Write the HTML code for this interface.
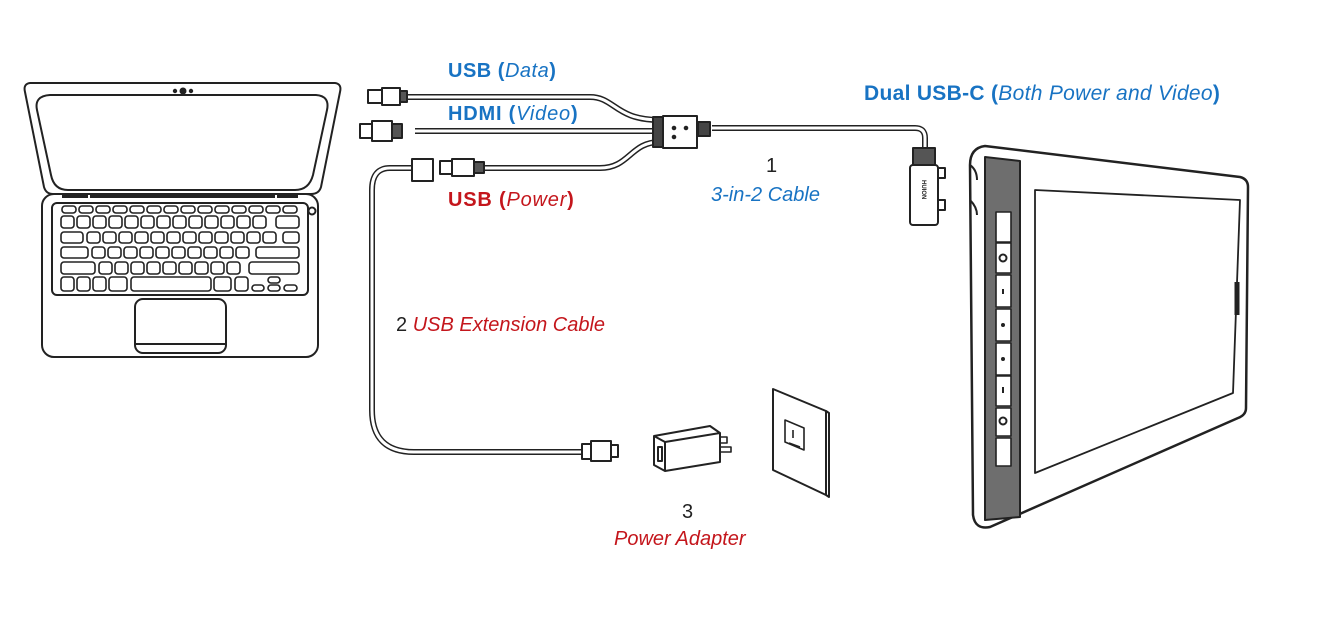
<!DOCTYPE html>
<html><head><meta charset="utf-8"><style>
body{margin:0;background:#fff;}
.w{position:relative;width:1323px;height:617px;overflow:hidden;font-family:"Liberation Sans",sans-serif;}
.t{position:absolute;font-size:20px;white-space:nowrap;}
.b{color:#1873c3;} .r{color:#c4161c;}
.t b{font-weight:bold;} .t i{font-weight:normal;}
</style></head><body><div class="w">
<svg width="1323" height="617" style="position:absolute;left:0;top:0" fill="none" stroke="#222" stroke-width="2" stroke-linejoin="round">
<!-- laptop lid -->
<path d="M30 83 H335 Q342 84 340 92 L321 187 Q319 194 311 194 H53 Q46 194 44 187 L25 92 Q23 84 30 83Z"/>
<path d="M50 95 H316 Q330 96 327 110 L313 175 Q309 190 295 190 H68 Q54 190 51 175 L37 110 Q34 96 50 95Z"/>
<circle cx="183" cy="91" r="2.5" fill="#222"/><circle cx="175" cy="91" r="1.2" fill="#222"/><circle cx="191" cy="91" r="1.2" fill="#222"/>
<path d="M62 196 H88 M90 196 H275 M277 196 H298" stroke-width="4"/>
<!-- base -->
<rect x="42" y="194" width="276" height="163" rx="12"/>
<rect x="52" y="203" width="256" height="92" rx="5"/>
<circle cx="312" cy="211" r="3.5"/>
<rect x="135" y="299" width="91" height="54" rx="8"/><line x1="135" y1="344" x2="226" y2="344"/>
<g stroke-width="1.6">
<rect x="62" y="206" width="14" height="7" rx="3"/><rect x="79" y="206" width="14" height="7" rx="3"/><rect x="96" y="206" width="14" height="7" rx="3"/><rect x="113" y="206" width="14" height="7" rx="3"/><rect x="130" y="206" width="14" height="7" rx="3"/><rect x="147" y="206" width="14" height="7" rx="3"/><rect x="164" y="206" width="14" height="7" rx="3"/><rect x="181" y="206" width="14" height="7" rx="3"/><rect x="198" y="206" width="14" height="7" rx="3"/><rect x="215" y="206" width="14" height="7" rx="3"/><rect x="232" y="206" width="14" height="7" rx="3"/><rect x="249" y="206" width="14" height="7" rx="3"/><rect x="266" y="206" width="14" height="7" rx="3"/><rect x="283" y="206" width="14" height="7" rx="3"/>
<rect x="61" y="216" width="13" height="12" rx="3"/><rect x="77" y="216" width="13" height="12" rx="3"/><rect x="93" y="216" width="13" height="12" rx="3"/><rect x="109" y="216" width="13" height="12" rx="3"/><rect x="125" y="216" width="13" height="12" rx="3"/><rect x="141" y="216" width="13" height="12" rx="3"/><rect x="157" y="216" width="13" height="12" rx="3"/><rect x="173" y="216" width="13" height="12" rx="3"/><rect x="189" y="216" width="13" height="12" rx="3"/><rect x="205" y="216" width="13" height="12" rx="3"/><rect x="221" y="216" width="13" height="12" rx="3"/><rect x="237" y="216" width="13" height="12" rx="3"/><rect x="253" y="216" width="13" height="12" rx="3"/><rect x="276" y="216" width="23" height="12" rx="3"/>
<rect x="61" y="232" width="22" height="11" rx="3"/><rect x="87" y="232" width="13" height="11" rx="3"/><rect x="103" y="232" width="13" height="11" rx="3"/><rect x="119" y="232" width="13" height="11" rx="3"/><rect x="135" y="232" width="13" height="11" rx="3"/><rect x="151" y="232" width="13" height="11" rx="3"/><rect x="167" y="232" width="13" height="11" rx="3"/><rect x="183" y="232" width="13" height="11" rx="3"/><rect x="199" y="232" width="13" height="11" rx="3"/><rect x="215" y="232" width="13" height="11" rx="3"/><rect x="231" y="232" width="13" height="11" rx="3"/><rect x="247" y="232" width="13" height="11" rx="3"/><rect x="263" y="232" width="13" height="11" rx="3"/><rect x="283" y="232" width="16" height="11" rx="3"/>
<rect x="61" y="247" width="27" height="11" rx="3"/><rect x="92" y="247" width="13" height="11" rx="3"/><rect x="108" y="247" width="13" height="11" rx="3"/><rect x="124" y="247" width="13" height="11" rx="3"/><rect x="140" y="247" width="13" height="11" rx="3"/><rect x="156" y="247" width="13" height="11" rx="3"/><rect x="172" y="247" width="13" height="11" rx="3"/><rect x="188" y="247" width="13" height="11" rx="3"/><rect x="204" y="247" width="13" height="11" rx="3"/><rect x="220" y="247" width="13" height="11" rx="3"/><rect x="236" y="247" width="13" height="11" rx="3"/><rect x="256" y="247" width="43" height="11" rx="3"/>
<rect x="61" y="262" width="34" height="12" rx="3"/><rect x="99" y="262" width="13" height="12" rx="3"/><rect x="115" y="262" width="13" height="12" rx="3"/><rect x="131" y="262" width="13" height="12" rx="3"/><rect x="147" y="262" width="13" height="12" rx="3"/><rect x="163" y="262" width="13" height="12" rx="3"/><rect x="179" y="262" width="13" height="12" rx="3"/><rect x="195" y="262" width="13" height="12" rx="3"/><rect x="211" y="262" width="13" height="12" rx="3"/><rect x="227" y="262" width="13" height="12" rx="3"/><rect x="249" y="262" width="50" height="12" rx="3"/>
<rect x="61" y="277" width="13" height="14" rx="3"/><rect x="77" y="277" width="13" height="14" rx="3"/><rect x="93" y="277" width="13" height="14" rx="3"/><rect x="109" y="277" width="18" height="14" rx="3"/><rect x="131" y="277" width="80" height="14" rx="3"/><rect x="214" y="277" width="17" height="14" rx="3"/><rect x="235" y="277" width="13" height="14" rx="3"/><rect x="252" y="285" width="12" height="6" rx="3"/><rect x="268" y="277" width="12" height="6" rx="3"/><rect x="268" y="285" width="12" height="6" rx="3"/><rect x="284" y="285" width="13" height="6" rx="3"/>
</g>
<!-- cables -->
<g stroke-width="6" stroke="#222"><path d="M405 97 H590 C615 97 615 120 660 120"/><path d="M415 131 H660"/><path d="M485 168 H600 C630 168 630 142 660 142"/><path d="M712 128 H915 Q925 128 925 138 V150"/><path d="M412 168 H390 Q372 168 372 190 V410 Q372 452 414 452 H582"/></g>
<g stroke-width="3" stroke="#fff"><path d="M405 97 H590 C615 97 615 120 660 120"/><path d="M415 131 H660"/><path d="M485 168 H600 C630 168 630 142 660 142"/><path d="M712 128 H915 Q925 128 925 138 V150"/><path d="M412 168 H390 Q372 168 372 190 V410 Q372 452 414 452 H582"/></g>
<rect x="368" y="90" width="14" height="13"/><rect x="382" y="88" width="18" height="17" fill="#fff"/><rect x="400" y="91" width="7" height="11" fill="#555"/>
<rect x="360" y="124" width="12" height="14" fill="#fff"/><rect x="372" y="121" width="20" height="20" fill="#fff"/><rect x="392" y="124" width="10" height="14" fill="#555"/>
<rect x="440" y="161" width="12" height="13" fill="#fff"/><rect x="452" y="159" width="22" height="17" fill="#fff"/><rect x="474" y="162" width="10" height="11" fill="#555"/>
<rect x="412" y="159" width="21" height="22" fill="#fff"/>
<rect x="653" y="117" width="10" height="30" fill="#444"/>
<rect x="663" y="116" width="34" height="32" fill="#fff"/>
<rect x="698" y="122" width="12" height="14" fill="#444"/>
<circle cx="674" cy="128" r="1.3" fill="#222"/><circle cx="674" cy="137" r="1.3" fill="#222"/><circle cx="686" cy="128" r="1.3" fill="#222"/>
<rect x="913" y="148" width="22" height="18" fill="#555"/>
<rect x="910" y="165" width="28" height="60" rx="3" fill="#fff"/>
<rect x="938" y="168" width="7" height="10" fill="#fff"/><rect x="938" y="200" width="7" height="10" fill="#fff"/>
<text x="0" y="0" transform="translate(922,180) rotate(90)" font-size="6" fill="#222" stroke="none" font-family="Liberation Sans" font-weight="bold">HUION</text>
<!-- tablet -->
<path d="M985 146 L1240 177 Q1248 179 1248 187 L1246 408 Q1246 415 1238 418 L990 527 Q975 530 973 515 L970 165 Q970 148 985 146Z" stroke-width="2.5"/>
<path d="M985 157 L1020 161 V517 L985 520Z" fill="#6e6e6e"/>
<path d="M1035 190 L1240 200 L1233 393 L1035 473Z" stroke-width="1.8"/>
<path d="M1237 282 V315" stroke-width="5"/>
<path d="M970 165 Q977 170 977 180 M970 200 Q977 207 977 215" stroke-width="2"/>
<g fill="#fff" stroke-width="1.6">
<rect x="996" y="212" width="15" height="30"/><rect x="996" y="243" width="15" height="30"/><rect x="996" y="275" width="15" height="32"/><rect x="996" y="309" width="15" height="32"/><rect x="996" y="343" width="15" height="32"/><rect x="996" y="376" width="15" height="30"/><rect x="996" y="408" width="15" height="28"/><rect x="996" y="438" width="15" height="28"/>
</g>
<circle cx="1003" cy="258" r="3.5"/><circle cx="1003" cy="421" r="3.5"/>
<line x1="1003" y1="289" x2="1003" y2="294"/><line x1="1003" y1="387" x2="1003" y2="393"/>
<circle cx="1003" cy="325" r="1" fill="#222"/><circle cx="1003" cy="359" r="1" fill="#222"/>
<rect x="582" y="444" width="9" height="15" fill="#fff"/><rect x="591" y="441" width="20" height="20" fill="#fff"/><rect x="611" y="445" width="7" height="12" fill="#fff"/>
<path d="M654 436 L710 426 L720 433 V462 L665 471 L654 465Z" fill="#fff"/>
<path d="M654 436 L665 442 V471 M665 442 L720 433"/>
<rect x="658" y="447" width="4" height="14"/>
<path d="M720 437 H727 V443 H720 M720 447 H731 V452 H720" stroke-width="1.6"/>
<path d="M773 389 L826 411 V495 L773 470Z" stroke-width="2"/>
<path d="M826 411 L829 413 V497 L826 495" stroke-width="2"/>
<path d="M785 420 L804 428 V450 L785 442Z" stroke-width="1.6"/>
<line x1="793" y1="430" x2="793" y2="438" stroke-width="1.6"/><line x1="789" y1="443" x2="800" y2="447" stroke-width="1.6"/>
</svg>
<div class="t b" style="left:448px;top:60px;letter-spacing:0.5px"><b>USB</b> <b>(</b><i>Data</i><b>)</b></div>
<div class="t b" style="left:448px;top:103px;letter-spacing:0.8px"><b>HDMI</b> <b>(</b><i>Video</i><b>)</b></div>
<div class="t r" style="left:448px;top:189px;letter-spacing:0.8px"><b>USB</b> <b>(</b><i>Power</i><b>)</b></div>
<div class="t b" style="left:864px;top:82px;font-size:21px;letter-spacing:0.3px"><b>Dual USB-C</b> <b>(</b><i>Both Power and Video</i><b>)</b></div>
<div class="t" style="left:766px;top:155px;color:#222">1</div>
<div class="t b" style="left:711px;top:184px"><i>3-in-2 Cable</i></div>
<div class="t" style="left:396px;top:314px;color:#222">2 <i class="r" style="font-style:italic">USB Extension Cable</i></div>
<div class="t" style="left:682px;top:501px;color:#222">3</div>
<div class="t r" style="left:614px;top:528px"><i>Power Adapter</i></div>
</div></body></html>
